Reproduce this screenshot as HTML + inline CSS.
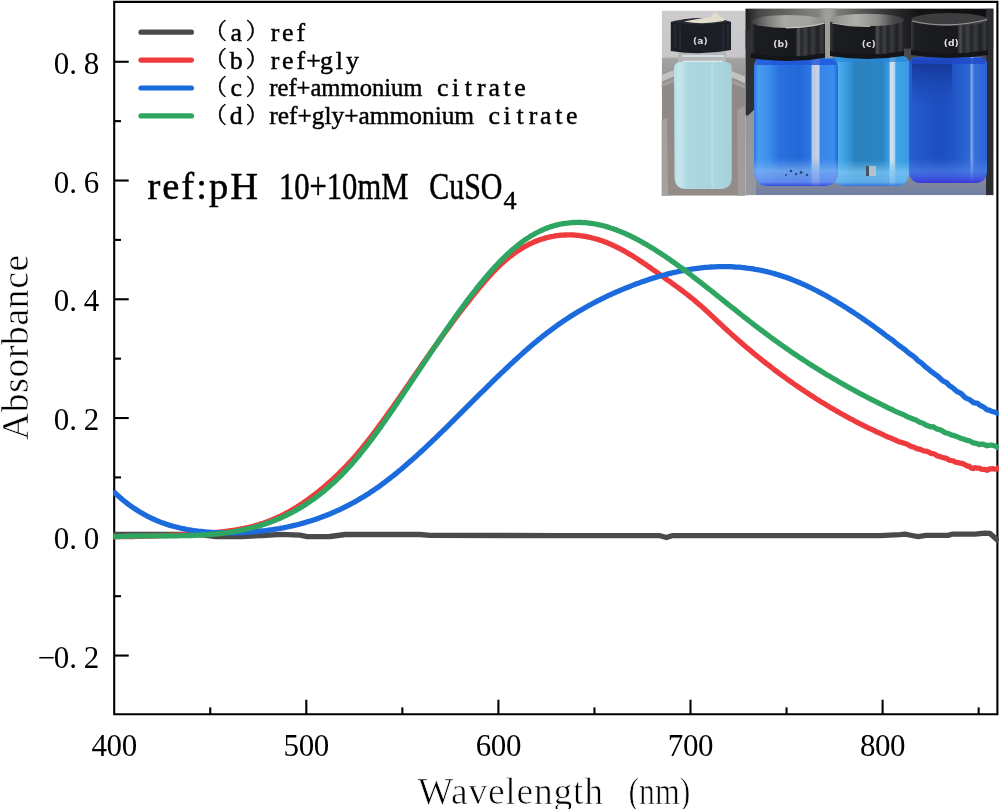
<!DOCTYPE html>
<html><head><meta charset="utf-8"><title>Absorbance spectra</title>
<style>
html,body{margin:0;padding:0;background:#fff;width:1000px;height:809px;overflow:hidden}
svg{display:block;position:absolute;left:0;top:0}
</style>
</head><body>
<svg width="1000" height="809" viewBox="0 0 1000 809">
<defs><clipPath id="plotclip"><rect x="113" y="3" width="886" height="710"/></clipPath></defs>
<rect width="1000" height="809" fill="#fff"/>
<g id="photo">
<defs>
<clipPath id="cpa"><rect x="661.7" y="10.6" width="83.8" height="185.2"/></clipPath>
<clipPath id="cpb"><rect x="745.4" y="8.6" width="248" height="186.6"/></clipPath>
<linearGradient id="bgA" x1="0" y1="0" x2="0" y2="1">
<stop offset="0" stop-color="#cdcbcd"/><stop offset="0.25" stop-color="#c8c6c8"/><stop offset="0.26" stop-color="#a4a2a2"/><stop offset="0.32" stop-color="#9c9a9a"/><stop offset="0.42" stop-color="#8e8a88"/><stop offset="1" stop-color="#938d89"/>
</linearGradient>
<linearGradient id="bodyA" x1="0" y1="0" x2="1" y2="0">
<stop offset="0" stop-color="#b6dde5"/><stop offset="0.07" stop-color="#c4e5eb"/><stop offset="0.13" stop-color="#c0e3e9"/><stop offset="0.24" stop-color="#acd7e1"/><stop offset="0.64" stop-color="#aad5df"/><stop offset="0.66" stop-color="#bee1e8"/><stop offset="0.69" stop-color="#acd6e0"/><stop offset="1" stop-color="#a6d1db"/>
</linearGradient>
<linearGradient id="bgB" x1="0" y1="0" x2="0" y2="1">
<stop offset="0" stop-color="#333437"/><stop offset="0.1" stop-color="#4e4f53"/><stop offset="0.3" stop-color="#48494d"/><stop offset="0.55" stop-color="#66676c"/><stop offset="0.9" stop-color="#8a8c93"/><stop offset="1" stop-color="#6f7ea6"/>
</linearGradient>
<linearGradient id="capG" x1="0" y1="0" x2="1" y2="0">
<stop offset="0" stop-color="#36373b"/><stop offset="0.06" stop-color="#1c1d20"/><stop offset="0.6" stop-color="#18191c"/><stop offset="0.64" stop-color="#4d4e52"/><stop offset="0.68" stop-color="#26272a"/><stop offset="0.74" stop-color="#404145"/><stop offset="0.78" stop-color="#222326"/><stop offset="0.84" stop-color="#3a3b3f"/><stop offset="0.9" stop-color="#1f2023"/><stop offset="0.96" stop-color="#3a3b3f"/><stop offset="1" stop-color="#1e1f22"/>
</linearGradient>
<linearGradient id="bodyB" x1="0" y1="0" x2="1" y2="0">
<stop offset="0" stop-color="#2c74e0"/><stop offset="0.05" stop-color="#4a9cf0"/><stop offset="0.18" stop-color="#3a8cec"/><stop offset="0.3" stop-color="#2a70de"/><stop offset="0.55" stop-color="#2468d8"/><stop offset="0.68" stop-color="#2d78e4"/><stop offset="0.69" stop-color="#b9c9e4"/><stop offset="0.77" stop-color="#c6d2e8"/><stop offset="0.79" stop-color="#3686ea"/><stop offset="0.95" stop-color="#3a8cee"/><stop offset="1" stop-color="#2262da"/>
</linearGradient>
<linearGradient id="bodyC" x1="0" y1="0" x2="1" y2="0">
<stop offset="0" stop-color="#3690dc"/><stop offset="0.07" stop-color="#50b0ee"/><stop offset="0.18" stop-color="#3c9ee2"/><stop offset="0.3" stop-color="#2a82bf"/><stop offset="0.65" stop-color="#2c84c2"/><stop offset="0.74" stop-color="#3a9ade"/><stop offset="0.76" stop-color="#cfe4f2"/><stop offset="0.81" stop-color="#bcdaee"/><stop offset="0.83" stop-color="#42a4e6"/><stop offset="1" stop-color="#3a98e2"/>
</linearGradient>
<linearGradient id="bodyD" x1="0" y1="0" x2="1" y2="0">
<stop offset="0" stop-color="#2a60d4"/><stop offset="0.1" stop-color="#2458cc"/><stop offset="0.4" stop-color="#1c4ec0"/><stop offset="0.6" stop-color="#2256c8"/><stop offset="0.78" stop-color="#2e6ad6"/><stop offset="0.8" stop-color="#8aa6e6"/><stop offset="0.84" stop-color="#3470dc"/><stop offset="1" stop-color="#2a62d6"/>
</linearGradient>
<linearGradient id="botB" x1="0" y1="0" x2="0" y2="1">
<stop offset="0" stop-color="#6aa4f0" stop-opacity="0"/><stop offset="0.45" stop-color="#7eb0f0" stop-opacity="0.75"/><stop offset="0.85" stop-color="#6c8ef0" stop-opacity="0.8"/><stop offset="1" stop-color="#3048e0" stop-opacity="0.95"/>
</linearGradient>
<linearGradient id="botC" x1="0" y1="0" x2="0" y2="1">
<stop offset="0" stop-color="#60b8f0" stop-opacity="0"/><stop offset="0.45" stop-color="#7ec6f2" stop-opacity="0.75"/><stop offset="0.85" stop-color="#6ab4ee" stop-opacity="0.8"/><stop offset="1" stop-color="#3070e0" stop-opacity="0.95"/>
</linearGradient>
<linearGradient id="botD" x1="0" y1="0" x2="0" y2="1">
<stop offset="0" stop-color="#4a80e8" stop-opacity="0"/><stop offset="0.5" stop-color="#5282e6" stop-opacity="0.6"/><stop offset="1" stop-color="#3a36dc" stop-opacity="0.95"/>
</linearGradient>
<linearGradient id="topD" x1="0" y1="0" x2="0" y2="1">
<stop offset="0" stop-color="#14348e" stop-opacity="0.95"/><stop offset="1" stop-color="#1c4cc0" stop-opacity="0"/>
</linearGradient>
<linearGradient id="topB" x1="0" y1="0" x2="1" y2="0">
<stop offset="0" stop-color="#3a3a3c"/><stop offset="0.22" stop-color="#7a7a78"/><stop offset="0.45" stop-color="#a9a9a5"/><stop offset="0.8" stop-color="#a2a29e"/><stop offset="1" stop-color="#8a8a88"/>
</linearGradient>
<linearGradient id="topC" x1="0" y1="0" x2="1" y2="0">
<stop offset="0" stop-color="#8e8e8a"/><stop offset="0.35" stop-color="#b0b0ac"/><stop offset="0.65" stop-color="#8a8a88"/><stop offset="0.85" stop-color="#4a4a4c"/><stop offset="1" stop-color="#3a3a3c"/>
</linearGradient>
<linearGradient id="topBand" x1="0" y1="0" x2="1" y2="0">
<stop offset="0" stop-color="#1e1e20"/><stop offset="0.06" stop-color="#4a4a48"/><stop offset="0.25" stop-color="#7a7a76"/><stop offset="0.33" stop-color="#8a8a86"/><stop offset="0.42" stop-color="#6a6a68"/><stop offset="0.58" stop-color="#303032"/><stop offset="0.7" stop-color="#141416"/><stop offset="1" stop-color="#0e0e10"/>
</linearGradient>
<filter id="blur2" x="-50%" y="-50%" width="200%" height="200%"><feGaussianBlur stdDeviation="2.5"/></filter>
</defs>
<g clip-path="url(#cpa)">
<rect x="661.7" y="10.6" width="83.8" height="185.2" fill="url(#bgA)"/>
<path d="M660 79 Q703 58 747 81" fill="none" stroke="#c4c2c1" stroke-width="6"/>
<path d="M660 86 Q703 66 747 88" fill="none" stroke="#a29e9b" stroke-width="3"/>
<path d="M661 120 L667 118 L668 196 L661 196 Z" fill="#a6a19d"/>
<path d="M737 110 L746 105 L746 196 L738 196 Z" fill="#a19c98"/>
<rect x="678" y="50" width="48" height="17" rx="3" fill="#b4b8ba"/>
<path d="M682 56 H724 M683 61.5 H723" stroke="#e2e8ea" stroke-width="1.6"/>
<path d="M674 68 Q674 62 681 62 H725 Q731.8 62 731.8 68 V177 Q731.8 189 719.8 189 H686.5 Q674.5 189 674.5 177 Z" fill="url(#bodyA)"/>
<path d="M670.8 22 Q701 14 731 22 V50 Q701 56 670.8 51 Z" fill="#1c1e26"/>
<path d="M671 22 Q701 15 731 21.5 Q701 27 671 22 Z" fill="#2a2c33"/>
<path d="M684 21.5 Q700 18 711 17 L715 11.5 L719 16 Q725 18 724 21 Q703 25 684 21.5 Z" fill="#e3ddcd"/>
<path d="M675 24 V48 M680 25 V50 M723 25 V50 M728 24 V48" stroke="#2b2e37" stroke-width="1.4"/>
<text x="700.3" y="43.5" font-family="'DejaVu Sans', 'Liberation Sans', sans-serif" font-weight="bold" font-size="9.2" fill="#d6d6d6" text-anchor="middle">(a)</text>
</g>
<rect x="745.3" y="58" width="2" height="138" fill="#e8e8e8"/>
<g clip-path="url(#cpb)">
<rect x="745.4" y="8.6" width="248" height="186.6" fill="url(#bgB)"/>
<rect x="745.4" y="8.6" width="248" height="40" fill="url(#topBand)"/>
<rect x="745.4" y="30" width="10" height="85" fill="#2f3033"/>
<rect x="822" y="6" width="12" height="60" fill="#a09f99" filter="url(#blur2)"/>
<rect x="986" y="8.6" width="8" height="186.6" fill="#2c2d31"/>
<path d="M745.4 118 L756 108 V195.2 H745.4 Z" fill="#96989e"/>
<path d="M909 65 Q909 57 917 57 H979 Q987 57 987 65 V170 Q987 183 974 183 H922 Q909 183 909 170 Z" fill="url(#bodyD)"/>
<path d="M912 60 H952 V112 Q930 110 912 100 Z" fill="url(#topD)"/>
<path d="M909 158 H987 V170 Q987 183 974 183 H922 Q909 183 909 170 Z" fill="url(#botD)"/>
<path d="M832 64 Q832 56 840 56 H901 Q909 56 909 64 V172 Q909 186 895 186 H846 Q832 186 832 172 Z" fill="url(#bodyC)"/>
<path d="M832 160 H909 V172 Q909 186 895 186 H846 Q832 186 832 172 Z" fill="url(#botC)"/>
<rect x="866" y="166" width="10" height="10" fill="#b8c4cc" opacity="0.9"/><rect x="866" y="166" width="3" height="10" fill="#2a3640" opacity="0.8"/>
<path d="M754 67 Q754 58 763 58 H829 Q838 58 838 67 V171 Q838 186 823 186 H769 Q754 186 754 171 Z" fill="url(#bodyB)"/>
<path d="M754 158 H838 V171 Q838 186 823 186 H769 Q754 186 754 171 Z" fill="url(#botB)"/>
<g fill="#1c2a50" opacity="0.75"><circle cx="791" cy="171" r="1.3"/><circle cx="796" cy="174" r="1.2"/><circle cx="801" cy="172.5" r="1.4"/><circle cx="807" cy="175" r="1.2"/><circle cx="786" cy="175" r="1"/></g>
<path d="M756 59 H836 V65 H756 Z" fill="#1f54d8" opacity="0.8"/>
<path d="M834 57 H907 V62 H834 Z" fill="#2a86d8" opacity="0.7"/>
<path d="M911 58 H985 V64 H911 Z" fill="#1f48c8" opacity="0.8"/>
<path d="M751 24.5 Q788 15 825 22 V55 Q788 62 751 56 Z" fill="url(#capG)"/>
<ellipse cx="788" cy="21.5" rx="37" ry="6.5" fill="url(#topB)"/><path d="M786 27.8 Q808 27.5 825 23" stroke="#c4c4c2" stroke-width="1.2" fill="none"/>
<path d="M751 53 Q788 60 825 53 V58 Q788 64 751 58 Z" fill="#141518"/>
<path d="M830 22 Q867 13 904 20 V53 Q867 60 830 54 Z" fill="url(#capG)"/>
<ellipse cx="867" cy="20" rx="37" ry="6.2" fill="url(#topC)"/><path d="M832 23 Q850 27 870 26.5" stroke="#b8b8b6" stroke-width="1" fill="none"/>
<path d="M830 51 Q867 58 904 51 V56 Q867 62 830 56 Z" fill="#141518"/>
<path d="M911 21 Q949 12 988 19 V52 Q949 59 911 53 Z" fill="url(#capG)"/>
<ellipse cx="949.5" cy="19.5" rx="38.5" ry="6.5" fill="#3d3c3e"/><path d="M912 21 Q950 29.5 987 19.5" stroke="#9a9a9a" stroke-width="1.2" fill="none"/>
<path d="M911 50 Q949 57 988 50 V55 Q949 61 911 55 Z" fill="#141518"/>
<g font-family="'DejaVu Sans', 'Liberation Sans', sans-serif" font-weight="bold" font-size="9.2" fill="#dedede" text-anchor="middle">
<text x="780.8" y="47">(b)</text><text x="868.8" y="47">(c)</text><text x="951.3" y="45.8">(d)</text>
</g>
</g>
</g>

<g stroke="#000" stroke-width="2.1" fill="none">
<path d="M114.2 655.56H128.70"/>
<path d="M114.2 596.18H121.00"/>
<path d="M114.2 536.80H128.70"/>
<path d="M114.2 477.42H121.00"/>
<path d="M114.2 418.04H128.70"/>
<path d="M114.2 358.66H121.00"/>
<path d="M114.2 299.28H128.70"/>
<path d="M114.2 239.90H121.00"/>
<path d="M114.2 180.52H128.70"/>
<path d="M114.2 121.14H121.00"/>
<path d="M114.2 61.76H128.70"/>
<path d="M210.25 714.2V707.40"/>
<path d="M306.30 714.2V699.70"/>
<path d="M402.35 714.2V707.40"/>
<path d="M498.40 714.2V699.70"/>
<path d="M594.45 714.2V707.40"/>
<path d="M690.50 714.2V699.70"/>
<path d="M786.55 714.2V707.40"/>
<path d="M882.60 714.2V699.70"/>
<path d="M978.65 714.2V707.40"/>
</g>
<path d="M114.2 1.9 L997.4 1.9 L997.4 714.2 L114.2 714.2 Z" stroke="#000" stroke-width="2.1" fill="none" stroke-linecap="square"/>
<g fill="none" stroke-width="5.3" stroke-linejoin="round" stroke-linecap="butt" clip-path="url(#plotclip)">
<path d="M113.2 534.3 L200.0 534.5 L216.0 536.5 L242.0 536.5 L262.0 535.5 L281.0 534.4 L300.0 535.2 L307.0 536.6 L330.0 536.5 L345.0 534.5 L420.0 534.5 L430.0 535.4 L560.0 535.6 L660.0 535.7 L666.4 537.5 L672.0 535.7 L880.0 535.6 L900.0 534.6 L905.0 534.2 L912.0 535.5 L918.0 536.6 L926.0 535.4 L948.0 535.4 L952.0 534.2 L975.0 534.2 L985.0 533.2 L990.0 533.4 L998.8 541.2" stroke="#4a4a4a"/>
<path d="M113.2 536.6L115.2 536.6L117.2 536.6L119.2 536.6L121.2 536.6L123.2 536.6L125.2 536.5L127.2 536.5L129.2 536.5L131.2 536.5L133.2 536.5L135.2 536.4L137.2 536.4L139.2 536.4L141.2 536.3L143.2 536.3L145.2 536.2L147.2 536.2L149.2 536.1L151.2 536.1L153.2 536.0L155.2 535.9L157.2 535.9L159.2 535.8L161.2 535.7L163.2 535.7L165.2 535.6L167.2 535.5L169.2 535.4L171.2 535.3L173.2 535.2L175.2 535.1L177.2 535.0L179.2 534.9L181.2 534.8L183.2 534.7L185.2 534.6L187.2 534.5L189.2 534.4L191.2 534.2L193.2 534.1L195.2 534.0L197.2 533.9L199.2 533.7L201.2 533.6L203.2 533.5L205.2 533.3L207.2 533.2L209.2 533.0L211.2 532.8L213.2 532.7L215.2 532.5L217.2 532.3L219.2 532.1L221.2 531.9L223.2 531.7L225.2 531.4L227.2 531.2L229.2 530.9L231.2 530.6L233.2 530.3L235.2 530.0L237.2 529.7L239.2 529.3L241.2 528.9L243.2 528.5L245.2 528.1L247.2 527.7L249.2 527.2L251.2 526.7L253.2 526.2L255.2 525.6L257.2 525.1L259.2 524.5L261.2 523.8L263.2 523.2L265.2 522.5L267.2 521.8L269.2 521.0L271.2 520.2L273.2 519.4L275.2 518.5L277.2 517.7L279.2 516.7L281.2 515.8L283.2 514.8L285.2 513.7L287.2 512.7L289.2 511.6L291.2 510.4L293.2 509.2L295.2 508.0L297.2 506.8L299.2 505.5L301.2 504.2L303.2 502.9L305.2 501.5L307.2 500.1L309.2 498.7L311.2 497.2L313.2 495.7L315.2 494.1L317.2 492.6L319.2 491.0L321.2 489.3L323.2 487.7L325.2 486.0L327.2 484.3L329.2 482.5L331.2 480.7L333.2 478.9L335.2 477.0L337.2 475.1L339.2 473.2L341.2 471.2L343.2 469.2L345.2 467.2L347.2 465.1L349.2 462.9L351.2 460.7L353.2 458.5L355.2 456.2L357.2 453.9L359.2 451.5L361.2 449.1L363.2 446.7L365.2 444.2L367.2 441.7L369.2 439.1L371.2 436.5L373.2 433.9L375.2 431.3L377.2 428.6L379.2 425.9L381.2 423.2L383.2 420.5L385.2 417.7L387.2 414.9L389.2 412.1L391.2 409.3L393.2 406.5L395.2 403.6L397.2 400.8L399.2 397.9L401.2 395.0L403.2 392.1L405.2 389.2L407.2 386.3L409.2 383.4L411.2 380.5L413.2 377.6L415.2 374.7L417.2 371.8L419.2 368.9L421.2 366.0L423.2 363.1L425.2 360.2L427.2 357.4L429.2 354.5L431.2 351.6L433.2 348.8L435.2 346.0L437.2 343.2L439.2 340.4L441.2 337.6L443.2 334.8L445.2 332.0L447.2 329.3L449.2 326.6L451.2 323.9L453.2 321.2L455.2 318.5L457.2 315.8L459.2 313.2L461.2 310.6L463.2 308.0L465.2 305.4L467.2 302.8L469.2 300.3L471.2 297.8L473.2 295.3L475.2 292.8L477.2 290.3L479.2 287.9L481.2 285.5L483.2 283.2L485.2 280.8L487.2 278.6L489.2 276.3L491.2 274.1L493.2 272.0L495.2 269.9L497.2 267.9L499.2 265.9L501.2 264.0L503.2 262.2L505.2 260.5L507.2 258.8L509.2 257.1L511.2 255.6L513.2 254.1L515.2 252.6L517.2 251.3L519.2 249.9L521.2 248.7L523.2 247.5L525.2 246.3L527.2 245.3L529.2 244.2L531.2 243.3L533.2 242.4L535.2 241.5L537.2 240.7L539.2 240.0L541.2 239.3L543.2 238.7L545.2 238.1L547.2 237.5L549.2 237.1L551.2 236.6L553.2 236.3L555.2 235.9L557.2 235.6L559.2 235.4L561.2 235.2L563.2 235.1L565.2 235.0L567.2 234.9L569.2 234.9L571.2 234.9L573.2 235.0L575.2 235.1L577.2 235.3L579.2 235.5L581.2 235.8L583.2 236.1L585.2 236.4L587.2 236.8L589.2 237.2L591.2 237.7L593.2 238.2L595.2 238.7L597.2 239.3L599.2 239.9L601.2 240.6L603.2 241.3L605.2 242.0L607.2 242.8L609.2 243.6L611.2 244.5L613.2 245.4L615.2 246.3L617.2 247.3L619.2 248.3L621.2 249.4L623.2 250.4L625.2 251.6L627.2 252.7L629.2 253.9L631.2 255.1L633.2 256.3L635.2 257.6L637.2 258.9L639.2 260.2L641.2 261.5L643.2 262.9L645.2 264.2L647.2 265.6L649.2 267.0L651.2 268.4L653.2 269.8L655.2 271.2L657.2 272.7L659.2 274.1L661.2 275.5L663.2 276.9L665.2 278.3L667.2 279.8L669.2 281.2L671.2 282.6L673.2 284.1L675.2 285.5L677.2 287.0L679.2 288.5L681.2 289.9L683.2 291.5L685.2 293.0L687.2 294.5L689.2 296.1L691.2 297.7L693.2 299.3L695.2 301.0L697.2 302.7L699.2 304.4L701.2 306.1L703.2 307.9L705.2 309.7L707.2 311.6L709.2 313.4L711.2 315.3L713.2 317.2L715.2 319.1L717.2 321.0L719.2 322.8L721.2 324.7L723.2 326.6L725.2 328.5L727.2 330.3L729.2 332.1L731.2 333.9L733.2 335.7L735.2 337.5L737.2 339.3L739.2 341.0L741.2 342.8L743.2 344.5L745.2 346.2L747.2 347.9L749.2 349.6L751.2 351.3L753.2 352.9L755.2 354.6L757.2 356.2L759.2 357.8L761.2 359.4L763.2 361.0L765.2 362.6L767.2 364.2L769.2 365.7L771.2 367.2L773.2 368.8L775.2 370.3L777.2 371.8L779.2 373.3L781.2 374.8L783.2 376.2L785.2 377.7L787.2 379.1L789.2 380.6L791.2 382.0L793.2 383.4L795.2 384.8L797.2 386.2L799.2 387.5L801.2 388.9L803.2 390.2L805.2 391.6L807.2 392.9L809.2 394.2L811.2 395.5L813.2 396.8L815.2 398.1L817.2 399.4L819.2 400.6L821.2 401.9L823.2 403.1L825.2 404.3L827.2 405.5L829.2 406.7L831.2 407.9L833.2 409.1L835.2 410.3L837.2 411.4L839.2 412.5L841.2 413.7L843.2 414.8L845.2 415.9L847.2 417.0L849.2 418.1L851.2 419.2L853.2 420.2L855.2 421.3L857.2 422.3L859.2 423.3L861.2 424.3L863.2 425.3L865.2 426.3L867.2 427.3L869.2 428.3L871.2 429.2L873.2 430.2L875.2 431.1L877.2 432.1L879.2 432.9L881.2 433.8L883.2 434.7L885.2 435.8L887.2 436.7L889.2 437.4L891.2 438.2L893.2 439.1L895.2 440.0L897.2 440.9L899.2 441.8L901.2 442.2L903.2 442.9L905.2 443.6L907.2 444.3L909.2 445.4L911.2 446.6L913.2 446.9L915.2 447.8L917.2 448.9L919.2 449.0L921.2 449.8L923.2 450.7L925.2 451.2L927.2 451.4L929.2 452.3L931.2 453.6L933.2 453.6L935.2 454.4L937.2 456.0L939.2 456.4L941.2 457.0L943.2 457.7L945.2 458.1L947.2 458.8L949.2 460.2L951.2 460.5L953.2 460.8L955.2 462.1L957.2 462.4L959.2 462.9L961.2 463.3L963.2 463.7L965.2 464.9L967.2 466.0L969.2 466.2L971.2 467.9L973.2 468.6L975.2 467.7L977.2 468.2L979.2 468.2L981.2 469.2L983.2 469.4L985.2 469.5L987.2 470.3L989.2 469.0L991.2 468.8L993.2 468.7L995.2 469.2L997.2 468.9L998.8 466.4" stroke="#ef3b3d"/>
<path d="M113.2 491.3L115.2 493.2L117.2 495.0L119.2 496.8L121.2 498.5L123.2 500.2L125.2 501.8L127.2 503.4L129.2 504.9L131.2 506.3L133.2 507.7L135.2 509.0L137.2 510.3L139.2 511.6L141.2 512.8L143.2 513.9L145.2 515.0L147.2 516.1L149.2 517.1L151.2 518.1L153.2 519.0L155.2 519.9L157.2 520.8L159.2 521.6L161.2 522.4L163.2 523.1L165.2 523.8L167.2 524.5L169.2 525.1L171.2 525.7L173.2 526.3L175.2 526.8L177.2 527.3L179.2 527.8L181.2 528.3L183.2 528.7L185.2 529.1L187.2 529.5L189.2 529.8L191.2 530.2L193.2 530.5L195.2 530.8L197.2 531.0L199.2 531.3L201.2 531.5L203.2 531.7L205.2 531.9L207.2 532.1L209.2 532.2L211.2 532.3L213.2 532.5L215.2 532.6L217.2 532.7L219.2 532.7L221.2 532.8L223.2 532.8L225.2 532.9L227.2 532.9L229.2 532.9L231.2 532.8L233.2 532.8L235.2 532.8L237.2 532.7L239.2 532.6L241.2 532.6L243.2 532.5L245.2 532.3L247.2 532.2L249.2 532.1L251.2 531.9L253.2 531.8L255.2 531.6L257.2 531.4L259.2 531.2L261.2 531.0L263.2 530.8L265.2 530.6L267.2 530.3L269.2 530.0L271.2 529.8L273.2 529.5L275.2 529.2L277.2 528.8L279.2 528.5L281.2 528.1L283.2 527.8L285.2 527.4L287.2 527.0L289.2 526.5L291.2 526.1L293.2 525.6L295.2 525.2L297.2 524.7L299.2 524.2L301.2 523.6L303.2 523.1L305.2 522.5L307.2 521.9L309.2 521.3L311.2 520.7L313.2 520.1L315.2 519.4L317.2 518.7L319.2 518.0L321.2 517.3L323.2 516.5L325.2 515.8L327.2 515.0L329.2 514.2L331.2 513.3L333.2 512.5L335.2 511.6L337.2 510.7L339.2 509.8L341.2 508.9L343.2 507.9L345.2 506.9L347.2 505.9L349.2 504.9L351.2 503.8L353.2 502.7L355.2 501.6L357.2 500.5L359.2 499.3L361.2 498.1L363.2 496.9L365.2 495.7L367.2 494.4L369.2 493.2L371.2 491.8L373.2 490.5L375.2 489.1L377.2 487.8L379.2 486.3L381.2 484.9L383.2 483.4L385.2 481.9L387.2 480.4L389.2 478.9L391.2 477.3L393.2 475.7L395.2 474.1L397.2 472.5L399.2 470.8L401.2 469.2L403.2 467.5L405.2 465.8L407.2 464.0L409.2 462.3L411.2 460.5L413.2 458.8L415.2 457.0L417.2 455.2L419.2 453.3L421.2 451.5L423.2 449.7L425.2 447.8L427.2 445.9L429.2 444.0L431.2 442.1L433.2 440.2L435.2 438.3L437.2 436.4L439.2 434.4L441.2 432.5L443.2 430.5L445.2 428.6L447.2 426.6L449.2 424.6L451.2 422.7L453.2 420.7L455.2 418.7L457.2 416.7L459.2 414.7L461.2 412.7L463.2 410.7L465.2 408.7L467.2 406.7L469.2 404.7L471.2 402.7L473.2 400.7L475.2 398.7L477.2 396.7L479.2 394.7L481.2 392.7L483.2 390.8L485.2 388.8L487.2 386.8L489.2 384.8L491.2 382.9L493.2 380.9L495.2 379.0L497.2 377.0L499.2 375.1L501.2 373.2L503.2 371.3L505.2 369.4L507.2 367.5L509.2 365.6L511.2 363.7L513.2 361.9L515.2 360.0L517.2 358.2L519.2 356.4L521.2 354.6L523.2 352.8L525.2 351.0L527.2 349.3L529.2 347.5L531.2 345.8L533.2 344.1L535.2 342.4L537.2 340.8L539.2 339.1L541.2 337.5L543.2 335.9L545.2 334.4L547.2 332.8L549.2 331.3L551.2 329.8L553.2 328.3L555.2 326.8L557.2 325.4L559.2 324.0L561.2 322.6L563.2 321.2L565.2 319.9L567.2 318.6L569.2 317.3L571.2 316.0L573.2 314.7L575.2 313.5L577.2 312.3L579.2 311.1L581.2 309.9L583.2 308.7L585.2 307.6L587.2 306.5L589.2 305.3L591.2 304.3L593.2 303.2L595.2 302.1L597.2 301.1L599.2 300.1L601.2 299.1L603.2 298.1L605.2 297.1L607.2 296.2L609.2 295.2L611.2 294.3L613.2 293.4L615.2 292.5L617.2 291.6L619.2 290.8L621.2 289.9L623.2 289.1L625.2 288.3L627.2 287.4L629.2 286.7L631.2 285.9L633.2 285.1L635.2 284.3L637.2 283.6L639.2 282.9L641.2 282.1L643.2 281.4L645.2 280.7L647.2 280.1L649.2 279.4L651.2 278.8L653.2 278.1L655.2 277.5L657.2 276.9L659.2 276.3L661.2 275.8L663.2 275.2L665.2 274.7L667.2 274.1L669.2 273.6L671.2 273.1L673.2 272.7L675.2 272.2L677.2 271.8L679.2 271.3L681.2 270.9L683.2 270.6L685.2 270.2L687.2 269.8L689.2 269.5L691.2 269.2L693.2 268.9L695.2 268.6L697.2 268.3L699.2 268.1L701.2 267.8L703.2 267.6L705.2 267.4L707.2 267.3L709.2 267.1L711.2 267.0L713.2 266.9L715.2 266.8L717.2 266.7L719.2 266.6L721.2 266.6L723.2 266.6L725.2 266.6L727.2 266.6L729.2 266.7L731.2 266.7L733.2 266.8L735.2 267.0L737.2 267.1L739.2 267.2L741.2 267.4L743.2 267.6L745.2 267.8L747.2 268.1L749.2 268.3L751.2 268.6L753.2 268.9L755.2 269.3L757.2 269.6L759.2 270.0L761.2 270.4L763.2 270.8L765.2 271.3L767.2 271.7L769.2 272.2L771.2 272.8L773.2 273.3L775.2 273.9L777.2 274.5L779.2 275.1L781.2 275.7L783.2 276.4L785.2 277.1L787.2 277.8L789.2 278.5L791.2 279.3L793.2 280.1L795.2 280.9L797.2 281.7L799.2 282.5L801.2 283.4L803.2 284.3L805.2 285.2L807.2 286.1L809.2 287.0L811.2 288.0L813.2 289.0L815.2 290.0L817.2 291.0L819.2 292.1L821.2 293.1L823.2 294.2L825.2 295.3L827.2 296.4L829.2 297.5L831.2 298.7L833.2 299.8L835.2 301.0L837.2 302.2L839.2 303.4L841.2 304.6L843.2 305.9L845.2 307.1L847.2 308.4L849.2 309.7L851.2 311.0L853.2 312.3L855.2 313.6L857.2 314.9L859.2 316.3L861.2 317.6L863.2 319.0L865.2 320.4L867.2 321.8L869.2 323.2L871.2 324.6L873.2 326.0L875.2 327.5L877.2 329.0L879.2 330.4L881.2 331.9L883.2 333.4L885.2 335.0L887.2 336.5L889.2 337.9L891.2 339.2L893.2 340.7L895.2 342.5L897.2 344.0L899.2 345.6L901.2 347.0L903.2 348.5L905.2 349.9L907.2 351.8L909.2 353.5L911.2 354.8L913.2 356.1L915.2 357.7L917.2 359.9L919.2 361.6L921.2 362.8L923.2 364.6L925.2 366.7L927.2 368.2L929.2 369.7L931.2 371.4L933.2 372.9L935.2 374.4L937.2 375.7L939.2 377.5L941.2 379.4L943.2 381.1L945.2 382.0L947.2 383.1L949.2 385.6L951.2 386.8L953.2 388.1L955.2 390.0L957.2 391.6L959.2 392.5L961.2 393.6L963.2 395.7L965.2 397.6L967.2 398.6L969.2 399.4L971.2 400.7L973.2 402.4L975.2 403.1L977.2 403.1L979.2 404.8L981.2 406.0L983.2 406.7L985.2 408.3L987.2 409.8L989.2 410.2L991.2 411.2L993.2 411.7L995.2 412.3L997.2 413.2L998.8 412.7" stroke="#1b6bdc"/>
<path d="M113.2 536.9L115.2 536.7L117.2 536.6L119.2 536.5L121.2 536.4L123.2 536.3L125.2 536.3L127.2 536.2L129.2 536.1L131.2 536.1L133.2 536.0L135.2 536.0L137.2 536.0L139.2 535.9L141.2 535.9L143.2 535.9L145.2 535.9L147.2 535.9L149.2 535.9L151.2 535.9L153.2 535.9L155.2 535.8L157.2 535.8L159.2 535.8L161.2 535.8L163.2 535.8L165.2 535.8L167.2 535.8L169.2 535.8L171.2 535.8L173.2 535.8L175.2 535.8L177.2 535.8L179.2 535.7L181.2 535.7L183.2 535.7L185.2 535.6L187.2 535.6L189.2 535.5L191.2 535.5L193.2 535.4L195.2 535.3L197.2 535.2L199.2 535.1L201.2 535.0L203.2 534.9L205.2 534.8L207.2 534.7L209.2 534.5L211.2 534.4L213.2 534.2L215.2 534.0L217.2 533.8L219.2 533.6L221.2 533.4L223.2 533.1L225.2 532.9L227.2 532.6L229.2 532.3L231.2 532.0L233.2 531.7L235.2 531.4L237.2 531.0L239.2 530.6L241.2 530.2L243.2 529.8L245.2 529.4L247.2 528.9L249.2 528.5L251.2 528.0L253.2 527.5L255.2 526.9L257.2 526.4L259.2 525.8L261.2 525.2L263.2 524.5L265.2 523.9L267.2 523.2L269.2 522.5L271.2 521.7L273.2 521.0L275.2 520.2L277.2 519.4L279.2 518.5L281.2 517.7L283.2 516.8L285.2 515.8L287.2 514.9L289.2 513.9L291.2 512.8L293.2 511.8L295.2 510.7L297.2 509.6L299.2 508.4L301.2 507.2L303.2 506.0L305.2 504.7L307.2 503.4L309.2 502.1L311.2 500.7L313.2 499.3L315.2 497.9L317.2 496.4L319.2 494.9L321.2 493.3L323.2 491.7L325.2 490.0L327.2 488.3L329.2 486.6L331.2 484.8L333.2 483.0L335.2 481.2L337.2 479.2L339.2 477.3L341.2 475.3L343.2 473.2L345.2 471.1L347.2 469.0L349.2 466.8L351.2 464.6L353.2 462.3L355.2 460.0L357.2 457.6L359.2 455.2L361.2 452.7L363.2 450.2L365.2 447.7L367.2 445.1L369.2 442.5L371.2 439.8L373.2 437.1L375.2 434.4L377.2 431.7L379.2 428.9L381.2 426.1L383.2 423.3L385.2 420.5L387.2 417.6L389.2 414.7L391.2 411.8L393.2 408.9L395.2 406.0L397.2 403.0L399.2 400.1L401.2 397.1L403.2 394.1L405.2 391.1L407.2 388.1L409.2 385.1L411.2 382.1L413.2 379.1L415.2 376.1L417.2 373.1L419.2 370.1L421.2 367.1L423.2 364.1L425.2 361.1L427.2 358.1L429.2 355.1L431.2 352.1L433.2 349.1L435.2 346.1L437.2 343.2L439.2 340.2L441.2 337.3L443.2 334.4L445.2 331.4L447.2 328.5L449.2 325.7L451.2 322.8L453.2 320.0L455.2 317.1L457.2 314.3L459.2 311.6L461.2 308.8L463.2 306.1L465.2 303.4L467.2 300.7L469.2 298.0L471.2 295.4L473.2 292.8L475.2 290.3L477.2 287.7L479.2 285.2L481.2 282.8L483.2 280.4L485.2 278.0L487.2 275.6L489.2 273.3L491.2 271.0L493.2 268.8L495.2 266.6L497.2 264.5L499.2 262.4L501.2 260.3L503.2 258.3L505.2 256.4L507.2 254.5L509.2 252.6L511.2 250.8L513.2 249.1L515.2 247.4L517.2 245.7L519.2 244.1L521.2 242.6L523.2 241.1L525.2 239.7L527.2 238.4L529.2 237.1L531.2 235.8L533.2 234.7L535.2 233.5L537.2 232.5L539.2 231.5L541.2 230.5L543.2 229.6L545.2 228.8L547.2 228.0L549.2 227.3L551.2 226.6L553.2 226.0L555.2 225.4L557.2 224.9L559.2 224.4L561.2 224.0L563.2 223.6L565.2 223.3L567.2 223.1L569.2 222.8L571.2 222.7L573.2 222.5L575.2 222.5L577.2 222.4L579.2 222.4L581.2 222.5L583.2 222.6L585.2 222.7L587.2 222.9L589.2 223.1L591.2 223.4L593.2 223.7L595.2 224.0L597.2 224.4L599.2 224.8L601.2 225.3L603.2 225.8L605.2 226.3L607.2 226.9L609.2 227.5L611.2 228.2L613.2 228.8L615.2 229.6L617.2 230.3L619.2 231.1L621.2 231.9L623.2 232.7L625.2 233.6L627.2 234.5L629.2 235.4L631.2 236.4L633.2 237.4L635.2 238.4L637.2 239.4L639.2 240.5L641.2 241.6L643.2 242.7L645.2 243.9L647.2 245.0L649.2 246.2L651.2 247.4L653.2 248.6L655.2 249.9L657.2 251.2L659.2 252.5L661.2 253.8L663.2 255.1L665.2 256.4L667.2 257.8L669.2 259.2L671.2 260.6L673.2 262.0L675.2 263.4L677.2 264.8L679.2 266.3L681.2 267.7L683.2 269.2L685.2 270.7L687.2 272.2L689.2 273.7L691.2 275.2L693.2 276.8L695.2 278.3L697.2 279.8L699.2 281.4L701.2 282.9L703.2 284.5L705.2 286.1L707.2 287.6L709.2 289.2L711.2 290.8L713.2 292.4L715.2 294.0L717.2 295.6L719.2 297.2L721.2 298.8L723.2 300.4L725.2 302.0L727.2 303.6L729.2 305.2L731.2 306.8L733.2 308.3L735.2 309.9L737.2 311.5L739.2 313.1L741.2 314.7L743.2 316.3L745.2 317.8L747.2 319.4L749.2 321.0L751.2 322.5L753.2 324.1L755.2 325.6L757.2 327.1L759.2 328.7L761.2 330.2L763.2 331.7L765.2 333.2L767.2 334.7L769.2 336.2L771.2 337.6L773.2 339.1L775.2 340.5L777.2 342.0L779.2 343.4L781.2 344.8L783.2 346.2L785.2 347.6L787.2 349.0L789.2 350.4L791.2 351.8L793.2 353.2L795.2 354.5L797.2 355.8L799.2 357.2L801.2 358.5L803.2 359.8L805.2 361.1L807.2 362.4L809.2 363.7L811.2 365.0L813.2 366.3L815.2 367.5L817.2 368.8L819.2 370.0L821.2 371.3L823.2 372.5L825.2 373.7L827.2 374.9L829.2 376.1L831.2 377.3L833.2 378.5L835.2 379.6L837.2 380.8L839.2 382.0L841.2 383.1L843.2 384.3L845.2 385.4L847.2 386.5L849.2 387.6L851.2 388.7L853.2 389.8L855.2 390.9L857.2 392.0L859.2 393.1L861.2 394.1L863.2 395.2L865.2 396.2L867.2 397.3L869.2 398.3L871.2 399.4L873.2 400.4L875.2 401.4L877.2 402.4L879.2 403.4L881.2 404.4L883.2 405.3L885.2 406.3L887.2 407.4L889.2 408.4L891.2 409.2L893.2 410.2L895.2 411.3L897.2 412.1L899.2 412.9L901.2 413.8L903.2 414.5L905.2 415.5L907.2 416.7L909.2 417.4L911.2 418.3L913.2 419.1L915.2 419.7L917.2 420.8L919.2 422.1L921.2 422.8L923.2 423.3L925.2 424.7L927.2 425.5L929.2 426.4L931.2 426.8L933.2 426.7L935.2 428.0L937.2 429.1L939.2 429.5L941.2 430.3L943.2 431.5L945.2 432.9L947.2 433.1L949.2 433.9L951.2 434.9L953.2 435.3L955.2 436.0L957.2 436.7L959.2 437.6L961.2 438.5L963.2 438.8L965.2 439.8L967.2 440.4L969.2 440.7L971.2 441.8L973.2 442.9L975.2 443.1L977.2 443.7L979.2 444.6L981.2 444.2L983.2 444.2L985.2 445.0L987.2 445.8L989.2 445.3L991.2 445.0L993.2 445.5L995.2 446.0L997.2 447.1L998.8 448.3" stroke="#2fa562"/>
</g>
<path d="M141 32.2H191.4" stroke="#4a4a4a" stroke-width="5.2" stroke-linecap="round"/>
<path d="M141 60.1H191.4" stroke="#ef3b3d" stroke-width="5.2" stroke-linecap="round"/>
<path d="M141 88.0H191.4" stroke="#1b6bdc" stroke-width="5.2" stroke-linecap="round"/>
<path d="M141 115.9H191.4" stroke="#2fa562" stroke-width="5.2" stroke-linecap="round"/>
</svg>
<svg width="1000" height="809" viewBox="0 0 1000 809" style="position:absolute;left:0;top:0">
<g font-family="'Liberation Serif', 'Noto Serif CJK SC', serif" fill="#000">
<text x="61.50 73.00 91.50" y="73.76" font-size="31.00" text-anchor="middle">0.8</text>
<text x="61.50 73.00 91.50" y="192.52" font-size="31.00" text-anchor="middle">0.6</text>
<text x="61.50 73.00 91.50" y="311.28" font-size="31.00" text-anchor="middle">0.4</text>
<text x="61.50 73.00 91.50" y="430.04" font-size="31.00" text-anchor="middle">0.2</text>
<text x="61.50 73.00 91.50" y="548.80" font-size="31.00" text-anchor="middle">0.0</text>
<text x="46.50 61.50 73.00 91.50" y="667.56" font-size="31.00" text-anchor="middle">−0.2</text>
<text x="99.25 114.35 129.45" y="755.80" font-size="31.00" text-anchor="middle">400</text>
<text x="291.35 306.45 321.55" y="755.80" font-size="31.00" text-anchor="middle">500</text>
<text x="483.45 498.55 513.65" y="755.80" font-size="31.00" text-anchor="middle">600</text>
<text x="675.55 690.65 705.75" y="755.80" font-size="31.00" text-anchor="middle">700</text>
<text x="867.65 882.75 897.85" y="755.80" font-size="31.00" text-anchor="middle">800</text>
<text x="417.82" y="804.00" font-size="37.50" textLength="185.15" lengthAdjust="spacing" stroke="#fff" stroke-width="0.7">Wavelength</text><text x="628.46" y="804.00" font-size="37.50" textLength="61.84" lengthAdjust="spacingAndGlyphs" stroke="#fff" stroke-width="0.7">(nm)</text>
<g transform="translate(28.2 441) rotate(-90)"><text x="1.12" y="0.00" font-size="37.50" textLength="185.15" lengthAdjust="spacing" stroke="#fff" stroke-width="0.5">Absorbance</text></g>
<text y="40.50" font-size="25.80" text-anchor="middle" stroke="#000" stroke-width="0.45"><tspan x="215.77" y="39.30" font-size="22.40">（</tspan><tspan x="236.25" y="40.50">a</tspan><tspan x="256.83" y="39.30" font-size="22.40">）</tspan></text><text x="274.95 287.85 300.75" y="40.50" font-size="25.80" text-anchor="middle" stroke="#000" stroke-width="0.45">ref</text>
<text y="68.50" font-size="25.80" text-anchor="middle" stroke="#000" stroke-width="0.45"><tspan x="215.77" y="67.30" font-size="22.40">（</tspan><tspan x="236.25" y="68.50">b</tspan><tspan x="256.83" y="67.30" font-size="22.40">）</tspan></text><text x="274.95 287.85 300.75 313.65 326.55 339.45 352.35" y="68.50" font-size="25.80" text-anchor="middle" stroke="#000" stroke-width="0.45">ref+gly</text>
<text y="96.40" font-size="25.80" text-anchor="middle" stroke="#000" stroke-width="0.45"><tspan x="215.77" y="95.20" font-size="22.40">（</tspan><tspan x="236.25" y="96.40">c</tspan><tspan x="256.83" y="95.20" font-size="22.40">）</tspan></text><text x="269.27" y="96.40" font-size="25.80" textLength="153.25" lengthAdjust="spacingAndGlyphs" stroke="#000" stroke-width="0.45">ref+ammonium</text><text x="442.65 455.55 468.45 481.35 494.25 507.15 520.05" y="96.40" font-size="25.80" text-anchor="middle" stroke="#000" stroke-width="0.45">citrate</text>
<text y="124.20" font-size="25.80" text-anchor="middle" stroke="#000" stroke-width="0.45"><tspan x="215.77" y="123.00" font-size="22.40">（</tspan><tspan x="236.25" y="124.20">d</tspan><tspan x="256.83" y="123.00" font-size="22.40">）</tspan></text><text x="269.27" y="124.20" font-size="25.80" textLength="204.85" lengthAdjust="spacingAndGlyphs" stroke="#000" stroke-width="0.45">ref+gly+ammonium</text><text x="494.25 507.15 520.05 532.95 545.85 558.75 571.65" y="124.20" font-size="25.80" text-anchor="middle" stroke="#000" stroke-width="0.45">citrate</text>
<text x="147.43" y="198.50" font-size="38.50" textLength="110.54" lengthAdjust="spacing" stroke="#000" stroke-width="0.5">ref:pH</text><text x="279.03" y="198.50" font-size="38.50" textLength="129.34" lengthAdjust="spacingAndGlyphs" stroke="#000" stroke-width="0.5">10+10mM</text>
<text y="198.5" font-size="38.5" stroke="#000" stroke-width="0.5"><tspan x="429.30" textLength="73.20" lengthAdjust="spacingAndGlyphs">CuSO</tspan><tspan x="510" y="208.5" font-size="26" text-anchor="middle">4</tspan></text>
</g></svg>
</body></html>
